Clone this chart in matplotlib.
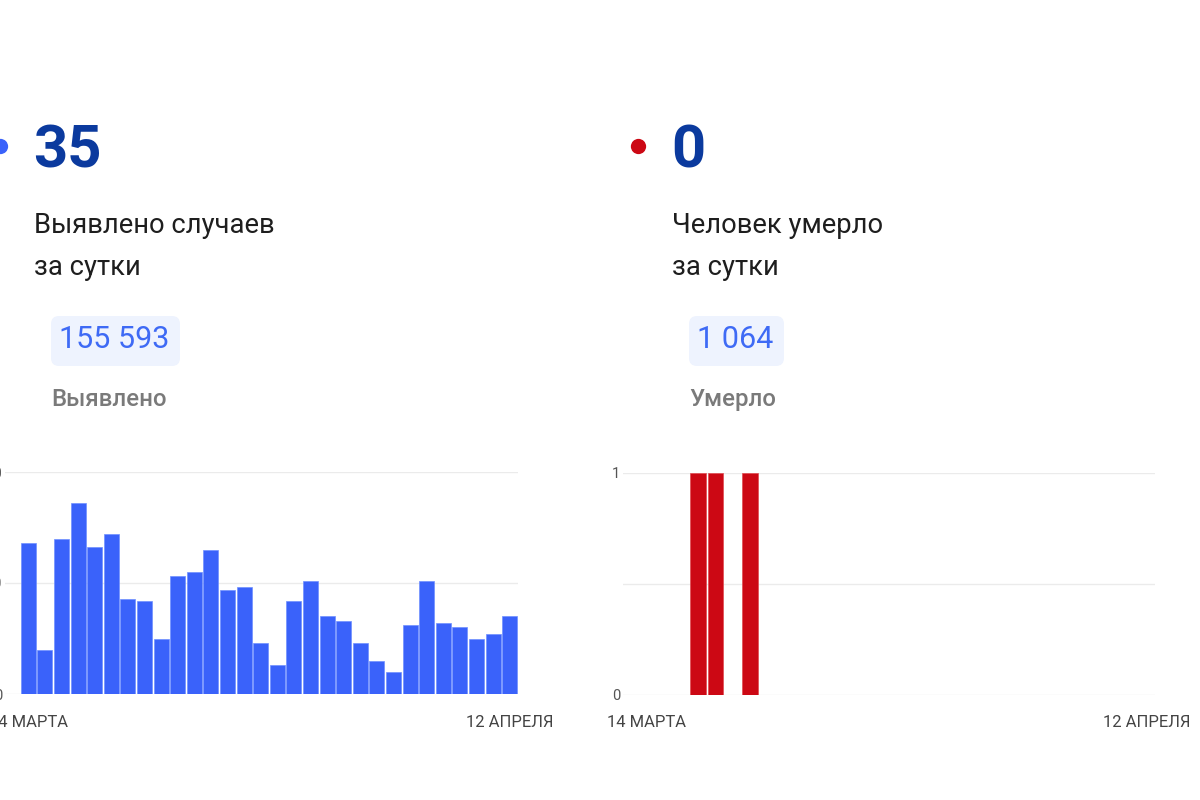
import matplotlib
matplotlib.use("Agg")
import matplotlib.pyplot as plt
from matplotlib.patches import FancyBboxPatch

plt.rcParams['font.family'] = ['Roboto', 'DejaVu Sans']

# ---- data ----
day_labels = ["14 МАРТА", "12 АПРЕЛЯ"]
cases_daily = [68, 20, 70, 86, 66, 72, 43, 42, 25, 53, 55, 65, 47, 48, 23,
               13, 42, 51, 35, 33, 23, 15, 10, 31, 51, 32, 30, 25, 27, 35]
deaths_daily = [0, 0, 0, 1, 1, 0, 1, 0, 0, 0, 0, 0, 0, 0, 0,
                0, 0, 0, 0, 0, 0, 0, 0, 0, 0, 0, 0, 0, 0, 0]
cases_ticks = [0, 50, 100]
deaths_ticks = [0, 0.5, 1]
deaths_tick_labels = ["0", "", "1"]
cases_ticks_labels = ["0", "50", "100"]

headline_cases = "35"
headline_deaths = "0"
title_cases = ["Выявлено случаев", "за сутки"]
title_deaths = ["Человек умерло", "за сутки"]
total_cases = "155 593"
total_deaths = "1 064"
total_cases_label = "Выявлено"
total_deaths_label = "Умерло"

BLUE = "#3A62FA"
BLUE_EDGE = "#6F8FFF"
RED = "#CC0814"
NAVY = "#0B3A9E"

W, H = 1200, 800
fig = plt.figure(figsize=(12, 8), dpi=100)
fig.patch.set_facecolor("white")


def rect(x0, y0, x1, y1):
    return [x0 / W, 1 - y1 / H, (x1 - x0) / W, (y1 - y0) / H]


def style_axes(ax, ticks, ticklabels, ylim, n, pitch_px):
    ax.set_ylim(*ylim)
    ax.set_xlim(-0.5 - 15.0 / pitch_px, n - 0.5)
    ax.set_yticks(ticks)
    ax.set_yticklabels(ticklabels)
    for t in ticks:
        ax.axhline(t, color="#EBEBEB", lw=1.0, zorder=0)
    for s in ax.spines.values():
        s.set_visible(False)
    ax.set_xticks([0, n - 1])
    ax.set_xticklabels(day_labels)
    ax.tick_params(axis="x", length=0, pad=15, labelsize=12, colors="#444444")
    ax.tick_params(axis="y", length=0, pad=2, labelsize=10.5, colors="#555555")
    ax.set_facecolor("none")


n = len(cases_daily)

# left chart
ax1 = fig.add_axes(rect(5, 472, 518, 694))
ax1.bar(range(n), cases_daily, width=0.91, color=BLUE, edgecolor=BLUE_EDGE,
        linewidth=0.5, zorder=2)
style_axes(ax1, cases_ticks, cases_ticks_labels, (0, 100), n, 498 / 30)

# right chart
ax2 = fig.add_axes(rect(623, 472.5, 1155, 694.5))
ax2.bar(range(n), deaths_daily, width=0.91, color=RED, edgecolor="#E04A50",
        linewidth=0.5, zorder=2)
style_axes(ax2, deaths_ticks, deaths_tick_labels, (0, 1), n, 517 / 30)

# overlay for header texts (pixel coordinates)
ov = fig.add_axes([0, 0, 1, 1])
ov.set_xlim(0, W)
ov.set_ylim(H, 0)
ov.axis("off")
ov.set_facecolor("none")

panels = [
    (0, BLUE, headline_cases, title_cases, total_cases, total_cases_label, 51, 180),
    (638, RED, headline_deaths, title_deaths, total_deaths, total_deaths_label, 689, 784),
]
for off, dcol, head, title, tot, totlab, bx0, bx1 in panels:
    ov.plot([off - 0.5], [146], "o", ms=11, color=dcol, mec="none", clip_on=False)
    ov.text(off + 33, 167, head, fontsize=43, fontweight="bold", color=NAVY,
            va="baseline", ha="left")
    ov.text(off + 34, 233, title[0], fontsize=19.7, color="#1E1E1E",
            va="baseline", ha="left")
    ov.text(off + 34, 275, title[1], fontsize=19.7, color="#1E1E1E",
            va="baseline", ha="left")
    box = FancyBboxPatch((bx0 + 7, 323), (bx1 - bx0) - 14, 36,
                         boxstyle="round,pad=7,rounding_size=8",
                         facecolor="#EEF3FE", edgecolor="none")
    ov.add_patch(box)
    ov.text(bx0 + 8, 348, tot, fontsize=22, color="#3E6AF5",
            va="baseline", ha="left")
    ov.text(bx0, 406, totlab, fontsize=17.3, fontweight="medium", color="#7A7A7A",
            va="baseline", ha="left")

fig.savefig("out.png", dpi=100, facecolor="white")
